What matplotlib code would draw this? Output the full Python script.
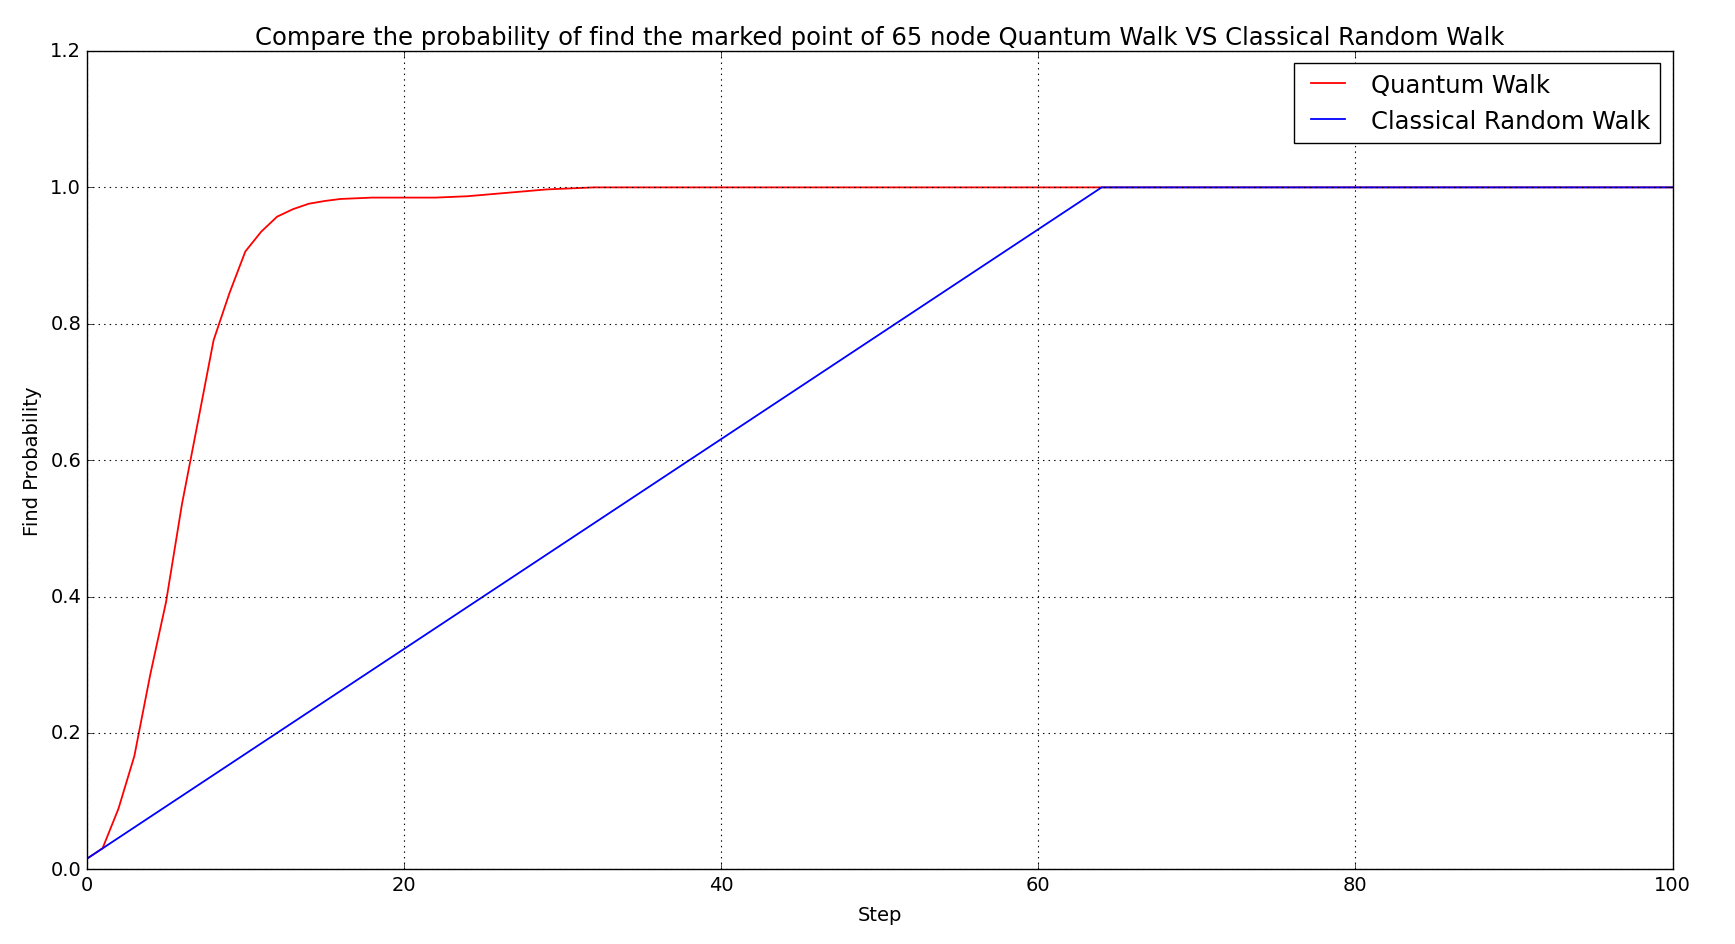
import numpy as np
import matplotlib
matplotlib.use('Agg')
import matplotlib.pyplot as plt

# quantum walk: probability of finding the marked node per step
qw_steps = list(range(0, 33)) + [100]
qw_prob = [0.0154, 0.031, 0.089, 0.166, 0.285, 0.392, 0.535, 0.655, 0.776, 0.845,
           0.906, 0.935, 0.957, 0.968, 0.976, 0.980, 0.983, 0.984, 0.985, 0.985,
           0.985, 0.985, 0.985, 0.986, 0.987, 0.989, 0.991, 0.993, 0.995, 0.997,
           0.998, 0.999, 1.0, 1.0]

# classical random walk: straight rise then flat
crw_steps = [0, 64, 100]
crw_prob = [0.0154, 1.0, 1.0]

plt.style.use('classic')
plt.rcParams.update({
    "figure.facecolor": "white",
    "savefig.facecolor": "white",
    "font.family": ["DejaVu Sans"],
})

fig = plt.figure(figsize=(17.35, 9.45), dpi=100)
ax = fig.add_axes([0.050, 0.079, 0.914, 0.866])

ax.plot(qw_steps, qw_prob, color='red', lw=1.3, label='Quantum Walk')
ax.plot(crw_steps, crw_prob, color='blue', lw=1.3, label='Classical Random Walk')

ax.set_xlim(0, 100)
ax.set_ylim(0, 1.2)
ax.set_xticks([0, 20, 40, 60, 80, 100])
ax.set_yticks(np.arange(0, 1.21, 0.2))
ax.tick_params(labelsize=14)
ax.grid(True, color='black', linestyle=':', lw=0.8)

ax.set_title('Compare the probability of find the marked point of 65 node Quantum Walk VS Classical Random Walk',
             fontsize=17.5)
ax.set_xlabel('Step', fontsize=14, labelpad=8)
ax.set_ylabel('Find Probability', fontsize=14, labelpad=6)

leg = ax.legend(loc='upper right', fontsize=17.5, borderaxespad=0.5, borderpad=0.4)
leg.get_frame().set_edgecolor('black')

fig.savefig('out.png', dpi=100)
